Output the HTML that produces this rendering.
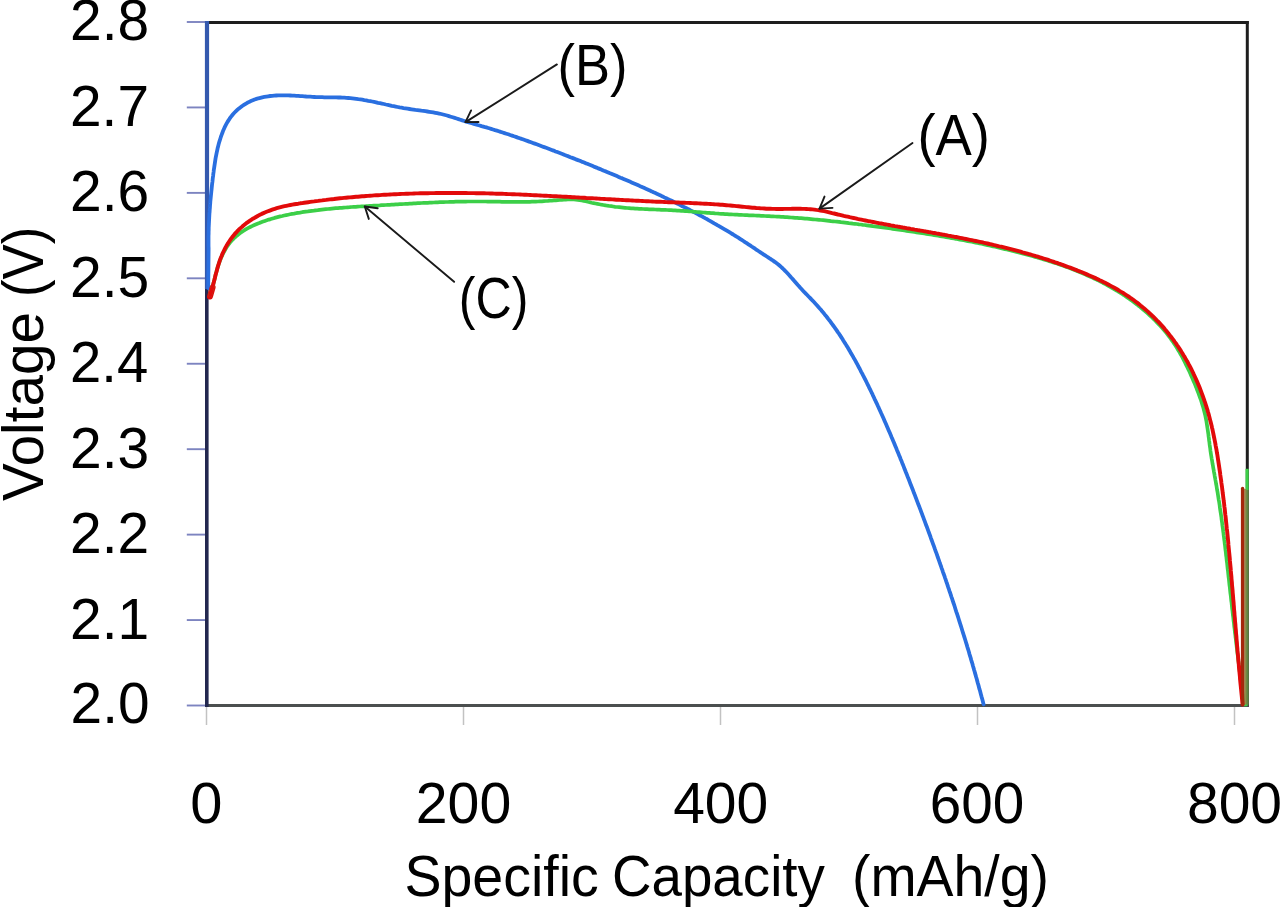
<!DOCTYPE html><html><head><meta charset="utf-8"><title>Specific Capacity vs Voltage</title>
<style>html,body{margin:0;padding:0;background:#fff;width:1280px;height:907px;overflow:hidden}svg{display:block}text{font-family:'Liberation Sans',Arial,sans-serif;fill:#000}</style></head><body>
<svg width="1280" height="907" viewBox="0 0 1280 907">
<rect width="1280" height="907" fill="#fff"/>
<g stroke="#7d84c0" stroke-width="1.9">
<line x1="186.8" y1="22.00" x2="206" y2="22.00"/>
<line x1="186.8" y1="107.44" x2="206" y2="107.44"/>
<line x1="186.8" y1="192.88" x2="206" y2="192.88"/>
<line x1="186.8" y1="278.31" x2="206" y2="278.31"/>
<line x1="186.8" y1="363.75" x2="206" y2="363.75"/>
<line x1="186.8" y1="449.19" x2="206" y2="449.19"/>
<line x1="186.8" y1="534.62" x2="206" y2="534.62"/>
<line x1="186.8" y1="620.06" x2="206" y2="620.06"/>
<line x1="186.8" y1="705.50" x2="206" y2="705.50"/>
</g>
<g stroke="#c2c2c2" stroke-width="1.5">
<line x1="206.50" y1="706" x2="206.50" y2="725"/>
<line x1="463.50" y1="706" x2="463.50" y2="725"/>
<line x1="720.50" y1="706" x2="720.50" y2="725"/>
<line x1="977.50" y1="706" x2="977.50" y2="725"/>
<line x1="1234.50" y1="706" x2="1234.50" y2="725"/>
</g>
<line x1="206" y1="22.4" x2="1248.7" y2="22.4" stroke="#1e1e1e" stroke-width="3"/>
<line x1="1247.3" y1="20.9" x2="1247.3" y2="707" stroke="#1e1e1e" stroke-width="3"/>
<line x1="206" y1="705.5" x2="1248.7" y2="705.5" stroke="#4b4f4f" stroke-width="3"/>
<line x1="206.8" y1="286" x2="206.8" y2="707" stroke="#23284f" stroke-width="3.6"/>
<line x1="207.0" y1="20.9" x2="207.0" y2="289" stroke="#3459ae" stroke-width="4.2"/>
<g fill="none" stroke-linejoin="round" stroke-linecap="round">
<path d="M208.2,288 L208.4,270 L208.6,250.0 L208.6,248.0 208.5,246.0 208.5,244.0 208.5,242.0 208.5,240.0 208.5,238.0 208.5,236.0 208.6,234.0 208.6,232.0 208.7,229.9 208.7,227.9 208.8,225.9 208.9,223.9 209.0,221.9 209.1,219.9 209.2,217.9 209.3,215.9 209.4,213.9 209.6,211.9 209.7,209.9 209.9,207.9 210.0,205.9 210.2,203.9 210.3,201.9 210.5,199.9 210.7,197.9 210.9,195.9 211.1,193.9 211.3,191.9 211.5,190.0 211.7,188.0 211.9,186.0 212.1,184.0 212.4,182.0 212.6,180.0 212.8,178.0 213.1,176.0 213.3,174.0 213.6,172.0 213.8,170.0 214.1,168.1 214.4,166.1 214.7,164.1 215.0,162.1 215.3,160.1 215.6,158.1 216.0,156.2 216.4,154.2 216.8,152.2 217.2,150.3 217.6,148.3 218.1,146.4 218.6,144.4 219.1,142.5 219.7,140.6 220.3,138.7 220.9,136.7 221.6,134.9 222.3,133.0 223.0,131.1 223.8,129.3 224.6,127.4 225.5,125.6 226.4,123.9 227.4,122.1 228.5,120.4 229.6,118.7 230.7,117.1 232.0,115.5 233.2,114.0 234.6,112.5 236.0,111.1 237.5,109.7 239.0,108.4 240.6,107.2 242.2,106.0 243.9,104.9 245.6,103.8 247.3,102.8 249.1,101.9 250.9,101.1 252.8,100.3 254.6,99.5 256.5,98.9 258.4,98.3 260.4,97.8 262.3,97.3 264.3,96.9 266.3,96.6 268.2,96.3 270.2,96.0 272.2,95.8 274.2,95.6 276.2,95.5 278.2,95.4 280.2,95.4 282.2,95.4 284.2,95.4 286.3,95.4 288.3,95.4 290.3,95.5 292.3,95.6 294.3,95.7 296.3,95.8 298.3,95.9 300.3,96.1 302.3,96.2 304.3,96.3 306.3,96.5 308.3,96.6 310.3,96.7 312.3,96.9 314.3,97.0 316.3,97.1 318.3,97.1 320.3,97.2 322.3,97.2 324.3,97.3 326.3,97.3 328.3,97.3 330.3,97.3 332.3,97.3 334.3,97.4 336.3,97.4 338.3,97.5 340.3,97.5 342.3,97.6 344.3,97.7 346.3,97.9 348.3,98.0 350.3,98.2 352.3,98.4 354.3,98.6 356.3,98.9 358.3,99.2 360.3,99.4 362.3,99.7 364.3,100.1 366.2,100.4 368.2,100.8 370.2,101.1 372.1,101.5 374.1,101.9 376.1,102.3 378.0,102.8 380.0,103.2 381.9,103.6 383.9,104.0 385.9,104.5 387.8,104.9 389.8,105.3 391.7,105.8 393.7,106.2 395.7,106.6 397.6,107.0 399.6,107.4 401.6,107.7 403.5,108.1 405.5,108.4 407.5,108.7 409.5,109.0 411.5,109.3 413.5,109.6 415.4,109.9 417.4,110.1 419.4,110.4 421.4,110.7 423.4,110.9 425.4,111.2 427.4,111.5 429.3,111.8 431.3,112.1 433.3,112.4 435.3,112.8 437.2,113.2 439.2,113.6 441.2,114.0 443.1,114.5 445.1,115.0 447.0,115.5 448.9,116.1 450.8,116.7 452.7,117.3 454.7,117.9 456.6,118.5 458.5,119.1 460.4,119.7 462.3,120.4 464.2,121.0 466.1,121.6 468.0,122.2 469.9,122.7 471.9,123.3 473.8,123.9 475.7,124.4 477.6,125.0 479.6,125.5 481.5,126.1 483.4,126.6 485.4,127.2 487.3,127.7 489.2,128.3 491.1,128.9 493.0,129.5 495.0,130.1 496.9,130.6 498.8,131.2 500.7,131.9 502.6,132.5 504.5,133.1 506.4,133.7 508.3,134.3 510.2,135.0 512.1,135.6 514.0,136.3 515.9,136.9 517.8,137.6 519.7,138.2 521.6,138.9 523.5,139.5 525.4,140.2 527.3,140.9 529.2,141.6 531.1,142.2 532.9,142.9 534.8,143.6 536.7,144.3 538.6,145.0 540.5,145.7 542.3,146.4 544.2,147.1 546.1,147.8 548.0,148.5 549.9,149.2 551.7,149.9 553.6,150.6 555.5,151.4 557.3,152.1 559.2,152.8 561.1,153.5 563.0,154.2 564.8,155.0 566.7,155.7 568.6,156.4 570.4,157.2 572.3,157.9 574.2,158.6 576.0,159.4 577.9,160.1 579.8,160.8 581.6,161.6 583.5,162.3 585.3,163.1 587.2,163.8 589.1,164.6 590.9,165.3 592.8,166.1 594.6,166.9 596.5,167.6 598.3,168.4 600.2,169.1 602.1,169.9 603.9,170.7 605.8,171.4 607.6,172.2 609.5,173.0 611.3,173.7 613.2,174.5 615.0,175.3 616.9,176.1 618.7,176.9 620.5,177.7 622.4,178.4 624.2,179.2 626.1,180.0 627.9,180.8 629.8,181.6 631.6,182.4 633.4,183.2 635.3,184.0 637.1,184.8 638.9,185.6 640.8,186.5 642.6,187.3 644.4,188.1 646.3,188.9 648.1,189.8 649.9,190.6 651.7,191.4 653.5,192.3 655.4,193.1 657.2,193.9 659.0,194.8 660.8,195.6 662.6,196.5 664.4,197.4 666.3,198.2 668.1,199.1 669.9,200.0 671.7,200.8 673.5,201.7 675.3,202.6 677.1,203.5 678.9,204.4 680.7,205.3 682.4,206.2 684.2,207.1 686.0,208.0 687.8,208.9 689.6,209.8 691.4,210.8 693.1,211.7 694.9,212.6 696.7,213.6 698.5,214.5 700.2,215.5 702.0,216.4 703.7,217.4 705.5,218.4 707.3,219.3 709.0,220.3 710.8,221.3 712.5,222.3 714.2,223.3 716.0,224.3 717.7,225.3 719.5,226.3 721.2,227.3 722.9,228.3 724.6,229.3 726.4,230.4 728.1,231.4 729.8,232.4 731.5,233.5 733.2,234.5 734.9,235.6 736.6,236.7 738.3,237.7 740.0,238.8 741.7,239.9 743.4,241.0 745.0,242.1 746.7,243.2 748.4,244.3 750.1,245.4 751.7,246.5 753.4,247.6 755.1,248.7 756.7,249.9 758.4,251.0 760.1,252.1 761.7,253.2 763.4,254.3 765.1,255.4 766.8,256.5 768.5,257.6 770.1,258.7 771.8,259.8 773.4,260.9 775.1,262.1 776.7,263.3 778.3,264.5 779.8,265.8 781.3,267.1 782.8,268.5 784.2,269.9 785.6,271.3 787.0,272.8 788.4,274.3 789.7,275.7 791.0,277.2 792.4,278.7 793.7,280.3 795.0,281.8 796.3,283.3 797.6,284.8 799.0,286.3 800.3,287.8 801.7,289.3 803.0,290.7 804.4,292.2 805.8,293.6 807.2,295.0 808.6,296.5 810.0,297.9 811.4,299.4 812.8,300.8 814.2,302.3 815.5,303.7 816.9,305.2 818.2,306.7 819.5,308.2 820.9,309.7 822.1,311.3 823.4,312.8 824.7,314.4 826.0,315.9 827.2,317.5 828.4,319.1 829.7,320.7 830.9,322.3 832.0,323.9 833.2,325.5 834.4,327.1 835.6,328.8 836.7,330.4 837.8,332.1 839.0,333.7 840.1,335.4 841.2,337.1 842.3,338.8 843.3,340.5 844.4,342.2 845.5,343.9 846.5,345.6 847.6,347.3 848.6,349.0 849.6,350.7 850.6,352.5 851.6,354.2 852.6,355.9 853.6,357.7 854.6,359.4 855.6,361.2 856.5,362.9 857.5,364.7 858.4,366.5 859.4,368.2 860.3,370.0 861.2,371.8 862.2,373.6 863.1,375.4 864.0,377.1 864.9,378.9 865.8,380.7 866.7,382.5 867.6,384.3 868.5,386.1 869.3,387.9 870.2,389.7 871.1,391.5 872.0,393.3 872.8,395.1 873.7,397.0 874.5,398.8 875.4,400.6 876.2,402.4 877.1,404.2 877.9,406.0 878.8,407.9 879.6,409.7 880.4,411.5 881.2,413.3 882.1,415.2 882.9,417.0 883.7,418.8 884.5,420.7 885.3,422.5 886.1,424.3 886.9,426.2 887.7,428.0 888.5,429.9 889.3,431.7 890.1,433.6 890.9,435.4 891.6,437.2 892.4,439.1 893.2,440.9 894.0,442.8 894.7,444.6 895.5,446.5 896.3,448.3 897.0,450.2 897.8,452.1 898.6,453.9 899.3,455.8 900.1,457.6 900.8,459.5 901.6,461.3 902.3,463.2 903.1,465.1 903.8,466.9 904.5,468.8 905.3,470.7 906.0,472.5 906.8,474.4 907.5,476.3 908.2,478.1 909.0,480.0 909.7,481.9 910.4,483.7 911.1,485.6 911.9,487.5 912.6,489.3 913.3,491.2 914.0,493.1 914.8,494.9 915.5,496.8 916.2,498.7 916.9,500.6 917.6,502.4 918.3,504.3 919.1,506.2 919.8,508.1 920.5,509.9 921.2,511.8 921.9,513.7 922.6,515.6 923.3,517.4 924.0,519.3 924.7,521.2 925.4,523.1 926.1,525.0 926.8,526.8 927.5,528.7 928.2,530.6 928.9,532.5 929.6,534.4 930.3,536.2 930.9,538.1 931.6,540.0 932.3,541.9 933.0,543.8 933.7,545.7 934.4,547.6 935.0,549.4 935.7,551.3 936.4,553.2 937.1,555.1 937.7,557.0 938.4,558.9 939.1,560.8 939.7,562.7 940.4,564.6 941.1,566.5 941.7,568.3 942.4,570.2 943.0,572.1 943.7,574.0 944.4,575.9 945.0,577.8 945.7,579.7 946.3,581.6 947.0,583.5 947.6,585.4 948.2,587.3 948.9,589.2 949.5,591.1 950.2,593.0 950.8,594.9 951.4,596.8 952.1,598.7 952.7,600.6 953.3,602.5 954.0,604.4 954.6,606.3 955.2,608.2 955.8,610.2 956.4,612.1 957.1,614.0 957.7,615.9 958.3,617.8 958.9,619.7 959.5,621.6 960.1,623.5 960.7,625.4 961.3,627.3 961.9,629.3 962.5,631.2 963.1,633.1 963.7,635.0 964.3,636.9 964.9,638.8 965.5,640.7 966.1,642.7 966.7,644.6 967.2,646.5 967.8,648.4 968.4,650.3 969.0,652.3 969.5,654.2 970.1,656.1 970.7,658.0 971.2,660.0 971.8,661.9 972.4,663.8 972.9,665.7 973.5,667.7 974.0,669.6 974.6,671.5 975.1,673.4 975.7,675.4 976.2,677.3 976.8,679.2 977.3,681.2 977.8,683.1 978.4,685.0 978.9,687.0 979.4,688.9 980.0,690.8 980.5,692.8 981.0,694.7 981.5,696.6 982.1,698.6 982.6,700.5 983.1,702.4 983.6,704.4" stroke="#2a6fe0" stroke-width="3.8"/>
<path d="M210,296.5 L212.6,287.5" stroke="#e00a0a" stroke-width="6"/>
<path d="M210.2,295 L210.6,293.0 L211.2,291.1 211.8,289.2 212.4,287.3 212.9,285.4 213.5,283.4 214.0,281.5 214.5,279.5 214.9,277.6 215.4,275.7 215.9,273.7 216.4,271.8 217.0,269.9 217.5,267.9 218.1,266.0 218.7,264.1 219.4,262.2 220.1,260.3 220.8,258.5 221.6,256.6 222.5,254.8 223.3,253.0 224.3,251.3 225.3,249.5 226.3,247.8 227.4,246.1 228.6,244.5 229.8,242.9 231.1,241.4 232.4,239.9 233.8,238.4 235.3,237.1 236.8,235.7 238.3,234.5 239.9,233.3 241.5,232.1 243.2,231.0 244.9,229.9 246.6,228.9 248.4,227.9 250.2,227.0 252.0,226.1 253.8,225.3 255.6,224.5 257.4,223.7 259.3,223.0 261.2,222.2 263.1,221.5 264.9,220.9 266.8,220.3 268.8,219.6 270.7,219.1 272.6,218.5 274.5,217.9 276.5,217.4 278.4,216.9 280.3,216.4 282.3,216.0 284.2,215.5 286.2,215.1 288.2,214.7 290.1,214.3 292.1,213.9 294.1,213.6 296.0,213.2 298.0,212.9 300.0,212.6 302.0,212.2 303.9,211.9 305.9,211.6 307.9,211.4 309.9,211.1 311.9,210.8 313.9,210.6 315.8,210.3 317.8,210.1 319.8,209.8 321.8,209.6 323.8,209.4 325.8,209.2 327.8,209.0 329.8,208.8 331.8,208.6 333.8,208.4 335.8,208.2 337.8,208.1 339.8,207.9 341.8,207.8 343.7,207.6 345.7,207.5 347.7,207.3 349.7,207.2 351.7,207.0 353.7,206.9 355.7,206.8 357.7,206.6 359.7,206.5 361.7,206.4 363.7,206.3 365.7,206.2 367.7,206.0 369.7,205.9 371.7,205.8 373.7,205.7 375.7,205.6 377.7,205.5 379.7,205.4 381.7,205.2 383.7,205.1 385.7,205.0 387.7,204.9 389.7,204.8 391.7,204.7 393.7,204.6 395.7,204.4 397.7,204.3 399.7,204.2 401.7,204.1 403.7,204.0 405.7,203.9 407.7,203.8 409.7,203.7 411.7,203.6 413.7,203.4 415.7,203.3 417.7,203.2 419.7,203.1 421.7,203.0 423.7,202.9 425.7,202.8 427.7,202.8 429.7,202.7 431.7,202.6 433.7,202.5 435.7,202.4 437.7,202.3 439.7,202.2 441.7,202.2 443.7,202.1 445.7,202.0 447.7,202.0 449.7,201.9 451.7,201.9 453.7,201.8 455.8,201.7 457.8,201.7 459.8,201.7 461.8,201.6 463.8,201.6 465.8,201.6 467.8,201.5 469.8,201.5 471.8,201.5 473.8,201.5 475.8,201.5 477.8,201.5 479.8,201.5 481.8,201.5 483.8,201.5 485.8,201.5 487.8,201.6 489.8,201.6 491.8,201.6 493.8,201.6 495.8,201.7 497.8,201.7 499.8,201.7 501.8,201.8 503.8,201.8 505.8,201.8 507.8,201.9 509.8,201.9 511.8,201.9 513.8,201.9 515.8,201.9 517.8,201.9 519.8,201.9 521.8,201.9 523.8,201.9 525.8,201.9 527.9,201.8 529.9,201.8 531.9,201.7 533.9,201.7 535.9,201.6 537.9,201.5 539.9,201.4 541.9,201.3 543.9,201.1 545.9,201.0 547.9,200.9 549.9,200.7 551.8,200.6 553.8,200.4 555.8,200.3 557.8,200.1 559.8,200.0 561.8,199.9 563.8,199.7 565.8,199.6 567.8,199.5 569.8,199.5 571.8,199.5 573.8,199.5 575.8,199.6 577.8,199.8 579.8,200.1 581.8,200.5 583.8,200.9 585.7,201.3 587.7,201.8 589.6,202.2 591.6,202.7 593.5,203.1 595.5,203.5 597.4,203.9 599.4,204.3 601.4,204.7 603.3,205.0 605.3,205.3 607.3,205.7 609.3,206.0 611.3,206.2 613.2,206.5 615.2,206.8 617.2,207.0 619.2,207.2 621.2,207.4 623.2,207.6 625.2,207.8 627.2,208.0 629.2,208.1 631.2,208.3 633.2,208.4 635.2,208.6 637.2,208.7 639.2,208.8 641.2,208.9 643.2,209.0 645.2,209.1 647.2,209.2 649.2,209.3 651.2,209.4 653.2,209.4 655.2,209.5 657.2,209.6 659.2,209.7 661.2,209.8 663.2,209.9 665.2,209.9 667.2,210.0 669.2,210.1 671.2,210.2 673.2,210.3 675.2,210.4 677.2,210.6 679.2,210.7 681.2,210.8 683.2,210.9 685.2,211.1 687.2,211.2 689.2,211.4 691.2,211.5 693.2,211.7 695.2,211.8 697.2,212.0 699.2,212.1 701.2,212.3 703.2,212.5 705.2,212.6 707.2,212.8 709.2,212.9 711.1,213.1 713.1,213.2 715.1,213.4 717.1,213.5 719.1,213.7 721.1,213.8 723.1,213.9 725.1,214.1 727.1,214.2 729.1,214.3 731.1,214.4 733.1,214.5 735.1,214.6 737.1,214.7 739.1,214.8 741.1,214.9 743.1,215.0 745.1,215.1 747.1,215.2 749.1,215.3 751.1,215.4 753.1,215.4 755.1,215.5 757.1,215.6 759.1,215.7 761.1,215.8 763.1,215.9 765.1,216.0 767.1,216.1 769.1,216.2 771.1,216.3 773.1,216.4 775.1,216.5 777.1,216.6 779.1,216.7 781.1,216.8 783.1,216.9 785.1,217.1 787.1,217.2 789.1,217.3 791.1,217.5 793.1,217.6 795.1,217.8 797.1,217.9 799.1,218.1 801.1,218.2 803.1,218.4 805.1,218.6 807.1,218.7 809.1,218.9 811.1,219.1 813.1,219.3 815.1,219.5 817.1,219.6 819.1,219.8 821.1,220.0 823.1,220.2 825.1,220.4 827.0,220.6 829.0,220.8 831.0,221.1 833.0,221.3 835.0,221.5 837.0,221.7 839.0,221.9 841.0,222.2 843.0,222.4 845.0,222.6 847.0,222.8 848.9,223.1 850.9,223.3 852.9,223.6 854.9,223.8 856.9,224.0 858.9,224.3 860.9,224.5 862.9,224.8 864.8,225.0 866.8,225.3 868.8,225.6 870.8,225.8 872.8,226.1 874.8,226.3 876.8,226.6 878.7,226.9 880.7,227.1 882.7,227.4 884.7,227.7 886.7,228.0 888.7,228.2 890.7,228.5 892.6,228.8 894.6,229.1 896.6,229.3 898.6,229.6 900.6,229.9 902.6,230.2 904.5,230.5 906.5,230.8 908.5,231.1 910.5,231.4 912.5,231.7 914.4,232.0 916.4,232.3 918.4,232.6 920.4,232.9 922.4,233.2 924.3,233.5 926.3,233.8 928.3,234.1 930.3,234.4 932.2,234.7 934.2,235.1 936.2,235.4 938.2,235.7 940.2,236.1 942.1,236.4 944.1,236.7 946.1,237.1 948.0,237.4 950.0,237.8 952.0,238.1 954.0,238.5 955.9,238.8 957.9,239.2 959.9,239.6 961.8,239.9 963.8,240.3 965.8,240.7 967.7,241.1 969.7,241.4 971.7,241.8 973.6,242.2 975.6,242.6 977.6,243.0 979.5,243.4 981.5,243.8 983.4,244.2 985.4,244.7 987.4,245.1 989.3,245.5 991.3,245.9 993.2,246.4 995.2,246.8 997.1,247.2 999.1,247.7 1001.0,248.1 1003.0,248.6 1004.9,249.1 1006.9,249.5 1008.8,250.0 1010.8,250.5 1012.7,251.0 1014.7,251.4 1016.6,251.9 1018.6,252.4 1020.5,252.9 1022.4,253.4 1024.4,253.9 1026.3,254.5 1028.2,255.0 1030.2,255.5 1032.1,256.0 1034.0,256.6 1036.0,257.1 1037.9,257.7 1039.8,258.2 1041.7,258.8 1043.6,259.4 1045.6,260.0 1047.5,260.6 1049.4,261.2 1051.3,261.8 1053.2,262.4 1055.1,263.0 1057.0,263.6 1058.9,264.3 1060.8,264.9 1062.7,265.6 1064.6,266.3 1066.5,267.0 1068.3,267.6 1070.2,268.3 1072.1,269.1 1073.9,269.8 1075.8,270.5 1077.7,271.3 1079.5,272.0 1081.4,272.8 1083.2,273.6 1085.1,274.4 1086.9,275.2 1088.7,276.0 1090.5,276.8 1092.4,277.6 1094.2,278.5 1096.0,279.4 1097.8,280.2 1099.6,281.1 1101.4,282.0 1103.1,283.0 1104.9,283.9 1106.7,284.8 1108.4,285.8 1110.2,286.8 1111.9,287.8 1113.7,288.8 1115.4,289.8 1117.1,290.8 1118.8,291.9 1120.5,292.9 1122.2,294.0 1123.9,295.1 1125.5,296.2 1127.2,297.4 1128.8,298.5 1130.5,299.7 1132.1,300.8 1133.7,302.0 1135.3,303.2 1136.9,304.4 1138.5,305.7 1140.0,306.9 1141.6,308.2 1143.1,309.5 1144.7,310.8 1146.2,312.1 1147.7,313.4 1149.1,314.8 1150.6,316.1 1152.1,317.5 1153.5,318.9 1154.9,320.3 1156.3,321.7 1157.7,323.2 1159.1,324.6 1160.4,326.1 1161.8,327.6 1163.1,329.1 1164.4,330.6 1165.7,332.2 1166.9,333.7 1168.2,335.3 1169.4,336.9 1170.6,338.5 1171.7,340.1 1172.9,341.8 1174.0,343.4 1175.1,345.1 1176.2,346.8 1177.3,348.5 1178.3,350.2 1179.3,351.9 1180.3,353.7 1181.3,355.4 1182.3,357.2 1183.2,358.9 1184.1,360.7 1185.0,362.5 1185.9,364.3 1186.8,366.1 1187.7,367.9 1188.5,369.7 1189.4,371.5 1190.2,373.3 1191.0,375.2 1191.8,377.0 1192.6,378.8 1193.4,380.7 1194.2,382.5 1195.0,384.4 1195.7,386.2 1196.5,388.1 1197.2,390.0 1197.9,391.8 1198.6,393.7 1199.3,395.6 1200.0,397.5 1200.7,399.3 1201.3,401.2 1201.9,403.2 1202.5,405.1 1203.1,407.0 1203.6,408.9 1204.1,410.9 1204.6,412.8 1205.1,414.7 1205.5,416.7 1205.9,418.7 1206.3,420.6 1206.6,422.6 1206.9,424.6 1207.2,426.6 1207.5,428.5 1207.8,430.5 1208.1,432.5 1208.4,434.5 1208.6,436.5 1208.9,438.5 1209.1,440.5 1209.4,442.4 1209.6,444.4 1209.9,446.4 1210.2,448.4 1210.4,450.4 1210.7,452.4 1211.0,454.4 1211.3,456.3 1211.6,458.3 1212.0,460.3 1212.3,462.3 1212.6,464.2 1213.0,466.2 1213.3,468.2 1213.7,470.2 1214.0,472.1 1214.4,474.1 1214.7,476.1 1215.1,478.0 1215.4,480.0 1215.8,482.0 1216.1,484.0 1216.5,485.9 1216.8,487.9 1217.1,489.9 1217.5,491.9 1217.8,493.8 1218.1,495.8 1218.4,497.8 1218.7,499.8 1219.1,501.7 1219.4,503.7 1219.7,505.7 1219.9,507.7 1220.2,509.7 1220.5,511.6 1220.8,513.6 1221.1,515.6 1221.4,517.6 1221.6,519.6 1221.9,521.6 1222.2,523.6 1222.4,525.5 1222.7,527.5 1223.0,529.5 1223.2,531.5 1223.5,533.5 1223.7,535.5 1224.0,537.5 1224.2,539.4 1224.5,541.4 1224.7,543.4 1225.0,545.4 1225.2,547.4 1225.4,549.4 1225.7,551.4 1225.9,553.4 1226.1,555.4 1226.4,557.3 1226.6,559.3 1226.8,561.3 1227.1,563.3 1227.3,565.3 1227.5,567.3 1227.7,569.3 1228.0,571.3 1228.2,573.3 1228.4,575.3 1228.6,577.2 1228.9,579.2 1229.1,581.2 1229.3,583.2 1229.5,585.2 1229.8,587.2 1230.0,589.2 1230.2,591.2 1230.4,593.2 1230.7,595.2 1230.9,597.1 1231.1,599.1 1231.3,601.1 1231.6,603.1 1231.8,605.1 1232.0,607.1 1232.2,609.1 1232.5,611.1 1232.7,613.1 1232.9,615.1 1233.2,617.0 1233.4,619.0 1233.6,621.0 1233.9,623.0 1234.1,625.0 1234.3,627.0 1234.6,629.0 1234.8,631.0 1235.0,633.0 1235.3,634.9 1235.5,636.9 1235.8,638.9 1236.0,640.9 1236.2,642.9 1236.5,644.9 1236.7,646.9 1237.0,648.9 1237.2,650.9 1237.4,652.8 1237.7,654.8 1237.9,656.8 1238.2,658.8 1238.4,660.8 1238.7,662.8 1238.9,664.8 1239.2,666.8 1239.4,668.7 1239.6,670.7 1239.9,672.7 1240.1,674.7 1240.4,676.7 1240.6,678.7 1240.9,680.7 1241.1,682.7 1241.4,684.6 1241.6,686.6 1241.9,688.6 1242.1,690.6 1242.4,692.6 1242.6,694.6 1242.9,696.6 1243.1,698.6 1243.4,700.5 1243.7,702.5 1243.9,704.5 L1246,704.5" stroke="#3ccf48" stroke-width="3.7"/>
<path d="M1247.3,704.5 L1247.3,490" stroke="#5f8540" stroke-width="2.8" stroke-linecap="butt"/>
<path d="M1247.1,490 L1247.1,468.8" stroke="#3ccf48" stroke-width="3.2" stroke-linecap="butt"/>
<path d="M1245.3,704.5 L1245.3,489" stroke="#908a4a" stroke-width="2.2" stroke-linecap="butt"/>
<path d="M210.2,295 L210.7,293.0 L211.3,291.1 211.8,289.2 212.4,287.2 212.9,285.3 213.5,283.4 214.0,281.4 214.5,279.5 215.0,277.5 215.4,275.6 215.9,273.7 216.5,271.7 217.0,269.8 217.5,267.9 218.1,265.9 218.7,264.0 219.3,262.1 219.9,260.2 220.6,258.3 221.4,256.5 222.1,254.6 222.9,252.8 223.8,251.0 224.7,249.2 225.6,247.4 226.6,245.6 227.6,243.9 228.7,242.2 229.8,240.5 230.9,238.9 232.1,237.3 233.4,235.7 234.6,234.2 236.0,232.7 237.3,231.2 238.7,229.8 240.2,228.4 241.7,227.1 243.2,225.7 244.7,224.5 246.3,223.2 247.9,222.1 249.6,220.9 251.2,219.8 252.9,218.7 254.7,217.7 256.4,216.7 258.1,215.7 259.9,214.8 261.7,213.9 263.5,213.1 265.4,212.3 267.2,211.5 269.1,210.8 271.0,210.1 272.9,209.4 274.8,208.8 276.7,208.2 278.6,207.7 280.6,207.2 282.5,206.7 284.5,206.2 286.4,205.8 288.4,205.4 290.4,205.0 292.3,204.6 294.3,204.3 296.3,204.0 298.3,203.7 300.2,203.3 302.2,203.1 304.2,202.8 306.2,202.5 308.2,202.2 310.2,201.9 312.1,201.6 314.1,201.4 316.1,201.1 318.1,200.9 320.1,200.6 322.1,200.4 324.1,200.1 326.1,199.9 328.1,199.6 330.0,199.4 332.0,199.2 334.0,199.0 336.0,198.7 338.0,198.5 340.0,198.3 342.0,198.1 344.0,197.9 346.0,197.7 348.0,197.5 350.0,197.4 352.0,197.2 354.0,197.0 356.0,196.8 358.0,196.7 360.0,196.5 362.0,196.3 364.0,196.2 366.0,196.0 368.0,195.9 370.0,195.7 372.0,195.6 374.0,195.4 376.0,195.3 378.0,195.2 380.0,195.1 382.0,194.9 384.0,194.8 386.0,194.7 388.0,194.6 390.0,194.5 392.0,194.4 394.0,194.3 396.0,194.2 398.0,194.1 400.0,194.0 402.0,193.9 404.0,193.9 406.0,193.8 408.0,193.7 410.0,193.6 412.0,193.6 414.0,193.5 416.0,193.4 418.0,193.4 420.0,193.3 422.0,193.3 424.0,193.2 426.0,193.2 428.0,193.2 430.0,193.1 432.0,193.1 434.1,193.1 436.1,193.0 438.1,193.0 440.1,193.0 442.1,193.0 444.1,193.0 446.1,193.0 448.1,193.0 450.1,193.0 452.1,192.9 454.1,193.0 456.1,193.0 458.1,193.0 460.1,193.0 462.1,193.0 464.1,193.0 466.1,193.0 468.1,193.1 470.1,193.1 472.1,193.1 474.1,193.1 476.1,193.2 478.1,193.2 480.2,193.2 482.2,193.3 484.2,193.3 486.2,193.4 488.2,193.4 490.2,193.5 492.2,193.5 494.2,193.6 496.2,193.7 498.2,193.7 500.2,193.8 502.2,193.8 504.2,193.9 506.2,194.0 508.2,194.1 510.2,194.1 512.2,194.2 514.2,194.3 516.2,194.4 518.2,194.4 520.2,194.5 522.2,194.6 524.2,194.7 526.2,194.8 528.2,194.9 530.2,195.0 532.2,195.1 534.2,195.2 536.2,195.3 538.2,195.4 540.2,195.5 542.2,195.6 544.3,195.7 546.3,195.8 548.3,195.9 550.3,196.0 552.3,196.1 554.3,196.2 556.3,196.3 558.3,196.4 560.3,196.5 562.3,196.6 564.3,196.7 566.3,196.8 568.3,196.9 570.3,197.0 572.3,197.2 574.3,197.3 576.3,197.4 578.3,197.5 580.3,197.6 582.3,197.7 584.3,197.8 586.3,198.0 588.3,198.1 590.3,198.2 592.3,198.3 594.3,198.4 596.3,198.5 598.3,198.6 600.3,198.8 602.3,198.9 604.3,199.0 606.3,199.1 608.3,199.2 610.3,199.3 612.3,199.4 614.3,199.5 616.3,199.7 618.3,199.8 620.3,199.9 622.3,200.0 624.3,200.1 626.3,200.2 628.3,200.3 630.3,200.4 632.3,200.5 634.3,200.6 636.3,200.7 638.3,200.8 640.3,200.9 642.3,201.0 644.3,201.1 646.3,201.2 648.3,201.3 650.3,201.4 652.3,201.5 654.3,201.6 656.3,201.7 658.3,201.8 660.4,201.8 662.4,201.9 664.4,202.0 666.4,202.1 668.4,202.2 670.4,202.2 672.4,202.3 674.4,202.4 676.4,202.5 678.4,202.5 680.4,202.6 682.4,202.7 684.4,202.8 686.4,202.9 688.4,202.9 690.4,203.0 692.4,203.1 694.4,203.2 696.4,203.3 698.4,203.4 700.4,203.5 702.4,203.6 704.4,203.7 706.4,203.8 708.4,203.9 710.4,204.0 712.4,204.1 714.4,204.3 716.4,204.4 718.4,204.5 720.4,204.7 722.4,204.8 724.4,205.0 726.4,205.2 728.4,205.4 730.4,205.5 732.4,205.7 734.4,205.9 736.4,206.1 738.4,206.3 740.4,206.5 742.4,206.7 744.4,206.9 746.4,207.1 748.4,207.3 750.4,207.5 752.4,207.7 754.3,207.8 756.3,208.0 758.3,208.1 760.3,208.3 762.3,208.4 764.3,208.5 766.3,208.7 768.3,208.8 770.4,208.8 772.4,208.9 774.4,208.9 776.4,209.0 778.4,209.0 780.4,209.0 782.4,209.0 784.4,208.9 786.4,208.9 788.4,208.9 790.4,208.9 792.4,208.8 794.4,208.8 796.4,208.8 798.4,208.8 800.4,208.8 802.4,208.9 804.4,208.9 806.4,209.0 808.4,209.1 810.4,209.2 812.4,209.4 814.4,209.6 816.4,209.9 818.4,210.1 820.4,210.5 822.3,210.8 824.3,211.2 826.3,211.7 828.2,212.1 830.2,212.6 832.1,213.1 834.1,213.5 836.0,214.0 838.0,214.5 839.9,214.9 841.9,215.4 843.8,215.9 845.8,216.3 847.7,216.7 849.7,217.2 851.6,217.6 853.6,218.0 855.6,218.4 857.5,218.9 859.5,219.3 861.4,219.7 863.4,220.1 865.4,220.5 867.3,220.9 869.3,221.3 871.3,221.6 873.2,222.0 875.2,222.4 877.2,222.8 879.1,223.2 881.1,223.5 883.1,223.9 885.1,224.3 887.0,224.6 889.0,225.0 891.0,225.4 892.9,225.7 894.9,226.1 896.9,226.4 898.9,226.8 900.8,227.1 902.8,227.5 904.8,227.8 906.8,228.2 908.7,228.5 910.7,228.9 912.7,229.2 914.7,229.6 916.6,229.9 918.6,230.3 920.6,230.6 922.6,230.9 924.5,231.3 926.5,231.6 928.5,232.0 930.5,232.3 932.4,232.7 934.4,233.0 936.4,233.4 938.3,233.7 940.3,234.1 942.3,234.5 944.3,234.8 946.2,235.2 948.2,235.6 950.2,235.9 952.1,236.3 954.1,236.7 956.1,237.0 958.1,237.4 960.0,237.8 962.0,238.2 964.0,238.6 965.9,239.0 967.9,239.4 969.8,239.8 971.8,240.2 973.8,240.6 975.7,241.0 977.7,241.4 979.7,241.8 981.6,242.2 983.6,242.7 985.5,243.1 987.5,243.5 989.4,244.0 991.4,244.4 993.4,244.9 995.3,245.3 997.3,245.8 999.2,246.3 1001.2,246.7 1003.1,247.2 1005.0,247.7 1007.0,248.2 1008.9,248.7 1010.9,249.2 1012.8,249.7 1014.8,250.2 1016.7,250.7 1018.6,251.2 1020.6,251.7 1022.5,252.3 1024.4,252.8 1026.4,253.3 1028.3,253.9 1030.2,254.4 1032.1,255.0 1034.1,255.6 1036.0,256.2 1037.9,256.7 1039.8,257.3 1041.7,257.9 1043.6,258.5 1045.6,259.1 1047.5,259.7 1049.4,260.4 1051.3,261.0 1053.2,261.6 1055.1,262.3 1057.0,262.9 1058.9,263.6 1060.8,264.2 1062.6,264.9 1064.5,265.6 1066.4,266.3 1068.3,267.0 1070.2,267.7 1072.0,268.4 1073.9,269.1 1075.8,269.8 1077.6,270.6 1079.5,271.3 1081.4,272.0 1083.2,272.8 1085.1,273.6 1086.9,274.4 1088.8,275.2 1090.6,276.0 1092.4,276.8 1094.3,277.6 1096.1,278.4 1097.9,279.3 1099.7,280.2 1101.5,281.0 1103.3,281.9 1105.1,282.8 1106.9,283.7 1108.7,284.7 1110.4,285.6 1112.2,286.6 1113.9,287.5 1115.7,288.5 1117.4,289.5 1119.1,290.6 1120.8,291.6 1122.6,292.6 1124.2,293.7 1125.9,294.8 1127.6,295.9 1129.3,297.0 1130.9,298.2 1132.6,299.3 1134.2,300.5 1135.8,301.7 1137.4,302.9 1139.0,304.1 1140.5,305.4 1142.1,306.7 1143.6,307.9 1145.1,309.2 1146.7,310.6 1148.2,311.9 1149.6,313.3 1151.1,314.6 1152.5,316.0 1154.0,317.4 1155.4,318.8 1156.8,320.3 1158.2,321.7 1159.6,323.2 1160.9,324.6 1162.3,326.1 1163.6,327.6 1164.9,329.2 1166.2,330.7 1167.4,332.2 1168.7,333.8 1169.9,335.4 1171.2,337.0 1172.4,338.6 1173.6,340.2 1174.7,341.8 1175.9,343.4 1177.0,345.1 1178.2,346.7 1179.3,348.4 1180.4,350.1 1181.4,351.8 1182.5,353.5 1183.5,355.2 1184.6,356.9 1185.6,358.7 1186.6,360.4 1187.6,362.1 1188.5,363.9 1189.5,365.7 1190.4,367.4 1191.3,369.2 1192.2,371.0 1193.1,372.8 1193.9,374.6 1194.8,376.5 1195.6,378.3 1196.4,380.1 1197.2,381.9 1198.0,383.8 1198.8,385.6 1199.6,387.5 1200.3,389.4 1201.0,391.2 1201.7,393.1 1202.4,395.0 1203.1,396.9 1203.8,398.8 1204.4,400.7 1205.1,402.6 1205.7,404.5 1206.3,406.4 1206.9,408.3 1207.5,410.2 1208.0,412.1 1208.6,414.1 1209.1,416.0 1209.6,417.9 1210.1,419.9 1210.6,421.8 1211.1,423.8 1211.6,425.7 1212.0,427.7 1212.5,429.6 1212.9,431.6 1213.3,433.5 1213.7,435.5 1214.1,437.5 1214.5,439.4 1214.9,441.4 1215.3,443.4 1215.6,445.3 1216.0,447.3 1216.4,449.3 1216.7,451.2 1217.0,453.2 1217.4,455.2 1217.7,457.2 1218.0,459.2 1218.3,461.1 1218.6,463.1 1218.9,465.1 1219.2,467.1 1219.5,469.1 1219.8,471.1 1220.1,473.0 1220.3,475.0 1220.6,477.0 1220.9,479.0 1221.2,481.0 1221.4,483.0 1221.7,485.0 1222.0,486.9 1222.2,488.9 1222.5,490.9 1222.7,492.9 1223.0,494.9 1223.2,496.9 1223.5,498.9 1223.7,500.9 1224.0,502.9 1224.2,504.8 1224.4,506.8 1224.7,508.8 1224.9,510.8 1225.1,512.8 1225.3,514.8 1225.6,516.8 1225.8,518.8 1226.0,520.8 1226.2,522.8 1226.4,524.8 1226.6,526.8 1226.8,528.8 1227.1,530.7 1227.3,532.7 1227.5,534.7 1227.7,536.7 1227.9,538.7 1228.1,540.7 1228.3,542.7 1228.4,544.7 1228.6,546.7 1228.8,548.7 1229.0,550.7 1229.2,552.7 1229.4,554.7 1229.6,556.7 1229.8,558.7 1229.9,560.7 1230.1,562.7 1230.3,564.7 1230.5,566.7 1230.7,568.7 1230.8,570.7 1231.0,572.7 1231.2,574.7 1231.4,576.6 1231.5,578.6 1231.7,580.6 1231.9,582.6 1232.0,584.6 1232.2,586.6 1232.4,588.6 1232.6,590.6 1232.7,592.6 1232.9,594.6 1233.1,596.6 1233.2,598.6 1233.4,600.6 1233.6,602.6 1233.7,604.6 1233.9,606.6 1234.0,608.6 1234.2,610.6 1234.4,612.6 1234.5,614.6 1234.7,616.6 1234.9,618.6 1235.0,620.6 1235.2,622.6 1235.4,624.6 1235.5,626.6 1235.7,628.6 1235.9,630.6 1236.0,632.6 1236.2,634.6 1236.4,636.6 1236.5,638.6 1236.7,640.6 1236.9,642.6 1237.0,644.6 1237.2,646.6 1237.4,648.6 1237.5,650.6 1237.7,652.6 1237.9,654.6 1238.1,656.6 1238.2,658.5 1238.4,660.5 1238.6,662.5 1238.8,664.5 1238.9,666.5 1239.1,668.5 1239.3,670.5 1239.5,672.5 1239.7,674.5 1239.9,676.5 1240.0,678.5 1240.2,680.5 1240.4,682.5 1240.6,684.5 1240.8,686.5 1241.0,688.5 1241.2,690.5 1241.4,692.5 1241.6,694.5 1241.8,696.5 1242.0,698.5 1242.2,700.5 1242.4,702.5 1242.6,704.4 L1242.6,704.5" stroke="#e20a0a" stroke-width="3.9"/>
<path d="M1242.6,704.5 L1242.6,488.5" stroke="#a4280c" stroke-width="3.4"/>
</g>
<g stroke="#1a1a1a" stroke-width="1.9" fill="none" stroke-linecap="round" stroke-linejoin="round">
<path d="M556.9,64.4 L465.5,122.1" /><path d="M471.1,110.4 L465.5,122.1 L478.5,122.0" />
<path d="M912.5,143.0 L819.5,208.6" /><path d="M824.5,196.6 L819.5,208.6 L832.5,207.9" />
<path d="M454.1,281.8 L364.8,206.5" /><path d="M377.7,208.3 L364.8,206.5 L368.8,218.9" />
</g>
<text id="y0" x="149.20" y="39.70" font-size="57.00" text-anchor="end" textLength="79.20" lengthAdjust="spacingAndGlyphs">2.8</text>
<text id="y1" x="149.00" y="125.84" font-size="57.00" text-anchor="end" textLength="78.96" lengthAdjust="spacingAndGlyphs">2.7</text>
<text id="y2" x="149.20" y="211.15" font-size="57.00" text-anchor="end" textLength="79.20" lengthAdjust="spacingAndGlyphs">2.6</text>
<text id="y3" x="149.20" y="296.63" font-size="57.00" text-anchor="end" textLength="79.25" lengthAdjust="spacingAndGlyphs">2.5</text>
<text id="y4" x="148.20" y="382.11" font-size="57.00" text-anchor="end" textLength="78.15" lengthAdjust="spacingAndGlyphs">2.4</text>
<text id="y5" x="149.20" y="467.59" font-size="57.00" text-anchor="end" textLength="79.20" lengthAdjust="spacingAndGlyphs">2.3</text>
<text id="y6" x="149.20" y="553.07" font-size="57.00" text-anchor="end" textLength="79.20" lengthAdjust="spacingAndGlyphs">2.2</text>
<text id="y7" x="149.20" y="638.54" font-size="57.00" text-anchor="end" textLength="79.20" lengthAdjust="spacingAndGlyphs">2.1</text>
<text id="y8" x="149.60" y="723.30" font-size="57.00" text-anchor="end" textLength="79.01" lengthAdjust="spacingAndGlyphs">2.0</text>
<text id="x0" x="206.30" y="822.50" font-size="57.00" text-anchor="middle" textLength="32.16" lengthAdjust="spacingAndGlyphs">0</text>
<text id="x200" x="463.50" y="822.50" font-size="57.00" text-anchor="middle" textLength="95.49" lengthAdjust="spacingAndGlyphs">200</text>
<text id="x400" x="720.70" y="822.50" font-size="57.00" text-anchor="middle" textLength="95.12" lengthAdjust="spacingAndGlyphs">400</text>
<text id="x600" x="977.00" y="822.50" font-size="57.00" text-anchor="middle" textLength="94.52" lengthAdjust="spacingAndGlyphs">600</text>
<text id="x800" x="1234.50" y="822.50" font-size="57.00" text-anchor="middle">800</text>
<text id="title1" x="404.40" y="895.60" font-size="57.00" text-anchor="start" textLength="194.37" lengthAdjust="spacingAndGlyphs">Specific</text>
<text id="title2" x="612.00" y="895.60" font-size="57.00" text-anchor="start" textLength="212.87" lengthAdjust="spacingAndGlyphs">Capacity</text>
<text id="title3" x="852.00" y="895.60" font-size="57.00" text-anchor="start" textLength="197.00" lengthAdjust="spacingAndGlyphs">(mAh/g)</text>
<text id="volt1" transform="translate(43.30,501.00) rotate(-90)" font-size="57.00" textLength="188.90" lengthAdjust="spacingAndGlyphs">Voltage</text>
<text id="volt2" transform="translate(43.30,297.00) rotate(-90)" font-size="57.00" textLength="70.17" lengthAdjust="spacingAndGlyphs">(V)</text>
<text id="lA" x="917.40" y="154.70" font-size="57.00" text-anchor="start" textLength="72.51" lengthAdjust="spacingAndGlyphs">(A)</text>
<text id="lB" x="557.40" y="85.20" font-size="57.00" text-anchor="start" textLength="70.01" lengthAdjust="spacingAndGlyphs">(B)</text>
<text id="lC" x="458.80" y="317.70" font-size="57.00" text-anchor="start" textLength="69.66" lengthAdjust="spacingAndGlyphs">(C)</text>
</svg></body></html>
